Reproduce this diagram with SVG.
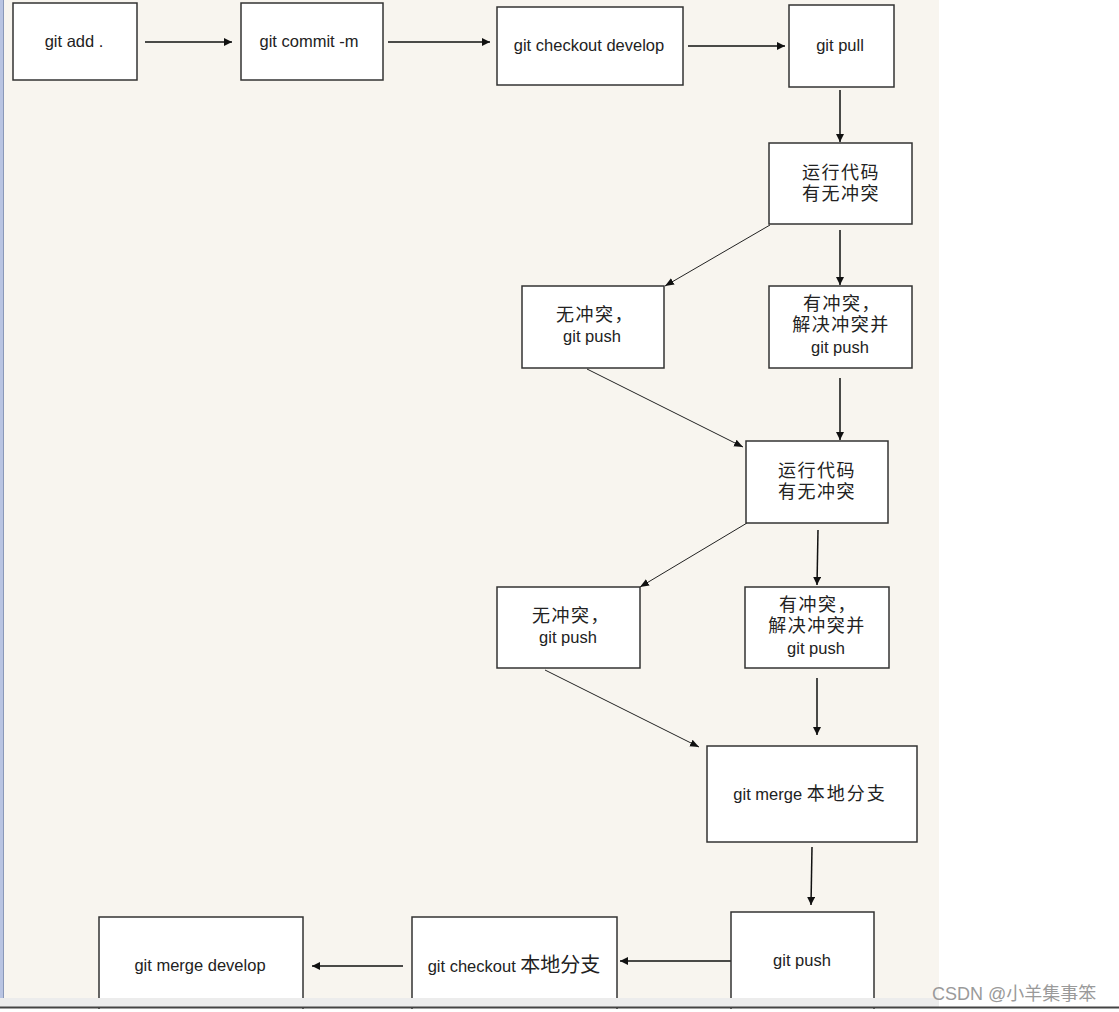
<svg xmlns="http://www.w3.org/2000/svg" width="1119" height="1012" viewBox="0 0 1119 1012">
<defs>
<marker id="ah" viewBox="0 0 10 10" refX="10" refY="5" markerWidth="8" markerHeight="8" markerUnits="userSpaceOnUse" orient="auto">
<path d="M0,0 L10,5 L0,10 z" fill="#111"/>
</marker>
<marker id="ahs" viewBox="0 0 10 10" refX="10" refY="5" markerWidth="9" markerHeight="9" markerUnits="userSpaceOnUse" orient="auto">
<path d="M0,1 L10,5 L0,9 z" fill="#111"/>
</marker>
</defs>
<style>
.box{fill:#fff;stroke:#333;stroke-width:1.5}
.t{font-family:"Liberation Sans","Noto Sans CJK SC",sans-serif;font-size:16.5px;fill:#222;text-anchor:middle}
.c{font-family:"Liberation Sans","Noto Sans CJK SC",sans-serif;font-size:18px;fill:#222;text-anchor:middle;letter-spacing:1.5px}
.e{stroke:#111;stroke-width:1.5;fill:none;marker-end:url(#ah)}
.d{stroke:#222;stroke-width:1;fill:none;marker-end:url(#ahs)}
</style>
<rect x="0" y="0" width="1119" height="1012" fill="#fff"/>
<rect x="0" y="0" width="939" height="998" fill="#f8f5ef"/>
<rect x="0" y="0" width="3" height="1006" fill="#b9c4e2"/>
<line x1="3.5" y1="0" x2="3.5" y2="1006" stroke="#8a98b8" stroke-width="1"/>

<g id="connectors">
<line class="e" x1="145" y1="42" x2="232" y2="42"/>
<line class="e" x1="388" y1="42" x2="490" y2="42"/>
<line class="e" x1="688" y1="46" x2="785" y2="46"/>
<line class="e" x1="840" y1="90" x2="840" y2="142"/>
<line class="d" x1="770" y1="225" x2="665" y2="286"/>
<line class="e" x1="840" y1="230" x2="840" y2="285"/>
<line class="d" x1="587" y1="369" x2="743" y2="447"/>
<line class="e" x1="840" y1="378" x2="840" y2="440"/>
<line class="d" x1="747" y1="523" x2="640" y2="587"/>
<line class="e" x1="818" y1="530" x2="817" y2="585"/>
<line class="d" x1="545" y1="670" x2="699" y2="747"/>
<line class="e" x1="817" y1="678" x2="817" y2="735"/>
<line class="e" x1="812" y1="847" x2="811" y2="905"/>
<line class="e" x1="731" y1="961" x2="620" y2="961"/>
<line class="e" x1="403" y1="966" x2="312" y2="966"/>
</g>

<g id="n1"><rect class="box" x="13" y="3" width="124" height="77"/><text class="t" x="74" y="47">git add .</text></g>
<g id="n2"><rect class="box" x="241" y="3" width="142" height="77"/><text class="t" x="309" y="47">git commit -m</text></g>
<g id="n3"><rect class="box" x="497" y="7" width="186" height="78"/><text class="t" x="589" y="51">git checkout develop</text></g>
<g id="n4"><rect class="box" x="789" y="5" width="105" height="82"/><text class="t" x="840" y="51">git pull</text></g>
<g id="n5"><rect class="box" x="769" y="143" width="143" height="81"/><text class="c" x="841" y="179">运行代码</text><text class="c" x="841" y="200">有无冲突</text></g>
<g id="n6"><rect class="box" x="522" y="286" width="142" height="82"/><text class="c" x="595" y="321">无冲突，</text><text class="t" x="592" y="342">git push</text></g>
<g id="n7"><rect class="box" x="769" y="286" width="143" height="82"/><text class="c" x="842" y="310">有冲突，</text><text class="c" x="841" y="331">解决冲突并</text><text class="t" x="840" y="353">git push</text></g>
<g id="n8"><rect class="box" x="746" y="441" width="142" height="82"/><text class="c" x="817" y="477">运行代码</text><text class="c" x="817" y="498">有无冲突</text></g>
<g id="n9"><rect class="box" x="497" y="587" width="143" height="81"/><text class="c" x="571" y="622">无冲突，</text><text class="t" x="568" y="643">git push</text></g>
<g id="n10"><rect class="box" x="745" y="587" width="144" height="81"/><text class="c" x="818" y="611">有冲突，</text><text class="c" x="817" y="632">解决冲突并</text><text class="t" x="816" y="654">git push</text></g>
<g id="n11"><rect class="box" x="707" y="746" width="210" height="96"/><text class="t" x="810" y="800">git merge <tspan style="font-size:18px;letter-spacing:2px">本地分支</tspan></text></g>
<g id="n12"><rect class="box" x="731" y="912" width="143" height="110"/><text class="t" x="802" y="966">git push</text></g>
<g id="n13"><rect class="box" x="412" y="917" width="205" height="110"/><text class="t" x="514" y="972">git checkout <tspan style="font-size:20px">本地分支</tspan></text></g>
<g id="n14"><rect class="box" x="99" y="917" width="204" height="110"/><text class="t" x="200" y="971">git merge develop</text></g>

<rect x="0" y="998" width="939" height="9" fill="#ececec"/>
<line x1="0" y1="1007.5" x2="1119" y2="1007.5" stroke="#444" stroke-width="2"/>
<rect x="0" y="1009" width="1119" height="3" fill="#fff"/>
<text x="932" y="1000" font-family="Liberation Sans,'Noto Sans CJK SC',sans-serif" font-size="18" fill="#9a9a9a">CSDN @小羊集事笨</text>
</svg>
